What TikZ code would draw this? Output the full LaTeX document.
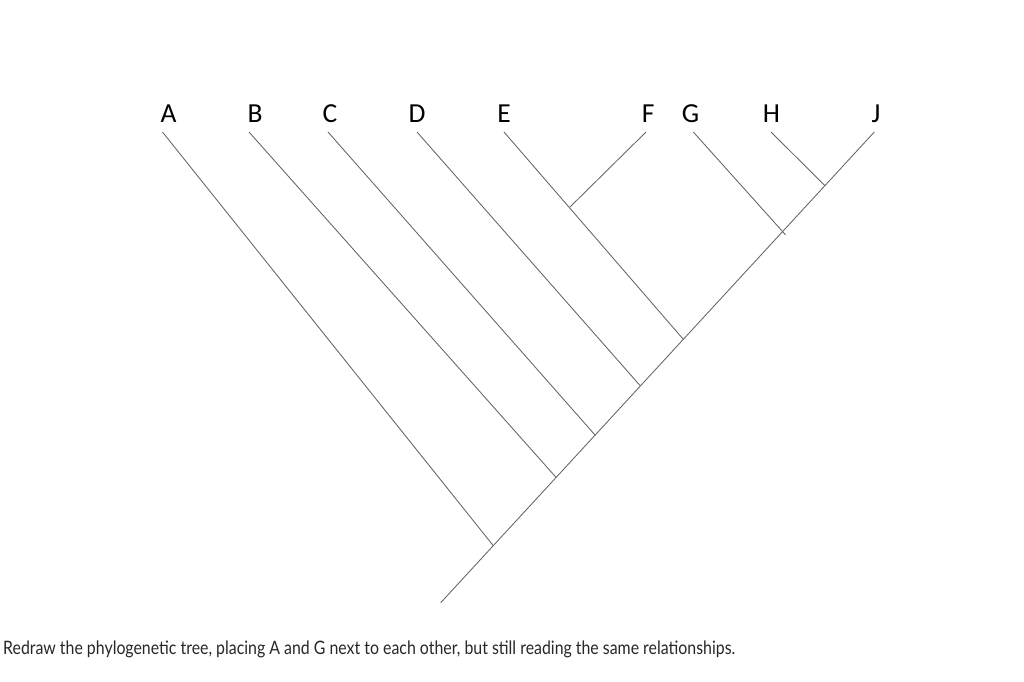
\documentclass[tikz,border=0pt]{standalone}
\usepackage{fontspec}
\usepackage{graphicx}
\newfontfamily\labelfont{Carlito}
\newfontfamily\captionfont{Lato}
\begin{document}
\begin{tikzpicture}[x=1pt,y=-1pt,
  branch/.style={draw={rgb,255:red,100;green,100;blue,100}, line width=0.85pt},
  taxon/.style={font=\labelfont\fontsize{27.5}{30}\selectfont, inner sep=0pt, text=black}]
\useasboundingbox (0,0) rectangle (1024,681);
\fill[white] (0,0) rectangle (1024,681);
% labels
\node[taxon] (lA) at (168.5,113.5) {A};
\node[taxon] (lB) at (255,113.5) {B};
\node[taxon] (lC) at (330,113.5) {C};
\node[taxon] (lD) at (417,113.5) {D};
\node[taxon] (lE) at (504,113.5) {E};
\node[taxon] (lF) at (648.3,113.5) {F};
\node[taxon] (lG) at (690.5,113.5) {G};
\node[taxon] (lH) at (771.5,113.5) {H};
\node[taxon] (lJ) at (876,113.5) {J};
% tips
\coordinate (tA) at (162.5,132);
\coordinate (tB) at (249,132);
\coordinate (tC) at (328,132);
\coordinate (tD) at (417,132);
\coordinate (tE) at (504,132);
\coordinate (tF) at (646,132);
\coordinate (tG) at (693.3,132);
\coordinate (tH) at (771,132);
\coordinate (tJ) at (874.3,132);
% junctions
\coordinate (root) at (440.7,602.7);
\coordinate (jA) at (493.3,545.7);
\coordinate (jB) at (556,477.3);
\coordinate (jC) at (595,435);
\coordinate (jD) at (640,385.5);
\coordinate (jE) at (683.3,339.3);
\coordinate (jEF) at (570,207);
\coordinate (jG) at (785.5,234.8);
\coordinate (jH) at (825,185.7);
% branches
\draw[branch] (root) -- (tJ);
\draw[branch] (tA) -- (jA);
\draw[branch] (tB) -- (jB);
\draw[branch] (tC) -- (jC);
\draw[branch] (tD) -- (jD);
\draw[branch] (tE) -- (jE);
\draw[branch] (tF) -- (jEF);
\draw[branch] (tG) -- (jG);
\draw[branch] (tH) -- (jH);
% caption
\node[anchor=west, inner sep=0pt, text={rgb,255:red,40;green,40;blue,40}] (caption) at (3,649.5)
  {\resizebox{732pt}{\height}{\captionfont\fontsize{18.5}{20}\selectfont Redraw the phylogenetic tree, placing A and G next to each other, but still reading the same relationships.}};
\end{tikzpicture}
\end{document}
